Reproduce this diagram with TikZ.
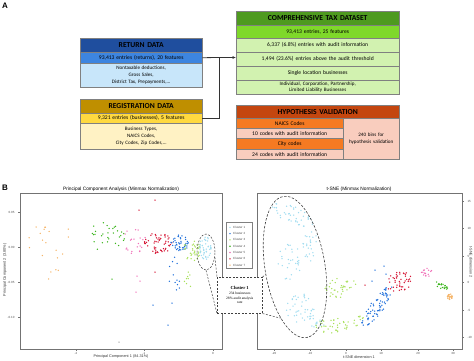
\documentclass[tikz,border=0pt]{standalone}
\usepackage{fontspec}
\setmainfont{Carlito}
\newfontfamily\plotfont{Liberation Sans}
\newfontfamily\boxserif{Liberation Serif}
\usetikzlibrary{arrows.meta,shapes.geometric}
\definecolor{retH}{HTML}{1F4E9E}
\definecolor{retR}{HTML}{3D85E0}
\definecolor{retL}{HTML}{C8E6FA}
\definecolor{regH}{HTML}{BF8F00}
\definecolor{regR}{HTML}{FFD940}
\definecolor{regL}{HTML}{FFF2C4}
\definecolor{comH}{HTML}{4E9A1F}
\definecolor{comR}{HTML}{7FD82A}
\definecolor{comL}{HTML}{D2F2B0}
\definecolor{hypH}{HTML}{C4460F}
\definecolor{hypR}{HTML}{F57A22}
\definecolor{hypL}{HTML}{F9CDBE}
\definecolor{cA}{HTML}{9FDCF0}
\definecolor{cB}{HTML}{1F6FDB}
\definecolor{cC}{HTML}{A8E05A}
\definecolor{cD}{HTML}{3CB51E}
\definecolor{cE}{HTML}{F070B8}
\definecolor{cF}{HTML}{D41030}
\definecolor{cG}{HTML}{F5B468}
\newcommand\scatterblob[8]{%
  \pgfmathsetseed{#8}%
  \foreach \kk in {1,...,#2}{%
    \pgfmathsetmacro\sbR{sqrt(rnd)}%
    \pgfmathsetmacro\sbT{360*rnd}%
    \pgfmathsetmacro\sbU{\sbR*cos(\sbT)}%
    \pgfmathsetmacro\sbV{\sbR*sin(\sbT)}%
    \fill[#1] ({#3+#5*\sbU*cos(#7)-#6*\sbV*sin(#7)},{#4+#5*\sbU*sin(#7)+#6*\sbV*cos(#7)}) circle[radius=0.75pt];
  }}
\begin{document}
\begin{tikzpicture}[x=1pt,y=-1pt,
  cell/.style={draw=black!50, line width=0.4pt, anchor=north west, inner sep=0pt, align=center},
  hdr/.style={cell, font=\fontsize{7.6}{8.5}\selectfont\bfseries},
  rowc/.style={cell, font=\fontsize{5.6}{6.4}\selectfont},
  desc/.style={cell, font=\fontsize{5.1}{6.6}\selectfont},
  conn/.style={draw=black!80, line width=0.8pt},
  frame/.style={draw=black!55, line width=0.5pt},
  tick/.style={font=\plotfont\fontsize{3}{3.5}\selectfont, text=black!70},
  axlab/.style={font=\plotfont\fontsize{3.8}{4.2}\selectfont, text=black!80},
  ptitle/.style={font=\plotfont\fontsize{4.8}{5.5}\selectfont},
  zoomline/.style={draw=black!75, dashed, line width=0.5pt, dash pattern=on 2pt off 1.5pt},
  panel/.style={font=\plotfont\bfseries\fontsize{8}{9}\selectfont}]
\useasboundingbox (0,0) rectangle (474,360);
% ---------- panel A ----------
\node[panel] (pA) at (5,6) {A};
\node[hdr, fill=retH, text width=122pt, minimum height=14pt] (ret-h) at (80,38) {RETURN DATA};
\node[rowc, fill=retR, text width=122pt, minimum height=11pt] (ret-r) at (80,52) {93,413 entries (returns), 20 features};
\node[desc, fill=retL, text width=122pt, minimum height=24pt] (ret-d) at (80,63) {Nontaxable deductions,\\Gross Sales,\\District Tax, Prepayments,...};
\node[hdr, fill=regH, text width=122pt, minimum height=14pt] (reg-h) at (80,99) {REGISTRATION DATA};
\node[rowc, fill=regR, text width=122pt, minimum height=10pt] (reg-r) at (80,113) {9,321 entries (businesses), 5 features};
\node[desc, fill=regL, text width=122pt, minimum height=26pt] (reg-d) at (80,123) {Business Types,\\NAICS Codes,\\City Codes, Zip Codes,...};
\node[hdr, fill=comH, text width=163pt, minimum height=14pt] (comp-h) at (236,11) {COMPREHENSIVE TAX DATASET};
\node[rowc, fill=comR, text width=163pt, minimum height=13pt] (comp1) at (236,25) {93,413 entries, 25 features};
\node[rowc, fill=comL, text width=163pt, minimum height=14pt] (comp2) at (236,38) {6,337 (6.8\%) entries with audit information};
\node[rowc, fill=comL, text width=163pt, minimum height=14pt] (comp3) at (236,52) {1,494 (23.6\%) entries above the audit threshold};
\node[rowc, fill=comL, text width=163pt, minimum height=14pt] (comp4) at (236,66) {Single location businesses};
\node[desc, fill=comL, text width=163pt, minimum height=14pt, font=\fontsize{5.1}{5.9}\selectfont] (comp5) at (236,80) {Individual, Corporation, Partnership,\\Limited Liability Businesses};
\node[hdr, fill=hypH, text width=163pt, minimum height=13pt] (hyp-h) at (236,105) {HYPOTHESIS VALIDATION};
\node[rowc, fill=hypR, text width=107pt, minimum height=10pt] (hyp-n) at (236,118) {NAICS Codes};
\node[rowc, fill=hypL, text width=107pt, minimum height=10pt] (hyp-n2) at (236,128) {10 codes with audit information};
\node[rowc, fill=hypR, text width=107pt, minimum height=11pt] (hyp-c) at (236,138) {City codes};
\node[rowc, fill=hypL, text width=107pt, minimum height=10pt] (hyp-c2) at (236,149) {24 codes with audit information};
\node[rowc, fill=hypL, text width=56pt, minimum height=41pt, font=\fontsize{5.1}{6.2}\selectfont] (hyp-b) at (343,118) {240 bins for\\hypothesis validation};
\coordinate (jn) at (219,57.5);
\draw[conn] (ret-r.east) -- (jn);
\draw[conn] (reg-r.east) -| (jn);
\draw[conn,-{Latex[length=3.5pt,width=3pt]}] (jn) -- (jn -| comp3.west);
% ---------- panel B ----------
\node[panel] (pB) at (5,188) {B};
\node[ptitle] (t1) at (121,189) {Principal Component Analysis (Minmax Normalization)};
\node[ptitle] (t2) at (359,189) {t-SNE (Minmax Normalization)};
\draw[frame] (20,193) rectangle (222,349);
\draw[frame] (257,193) rectangle (462,349);
% PCA axes
\foreach \yy/\lab in {212/0.05,247/0.00,282/-0.05,317/-0.10}{
  \draw[black!55,line width=0.3pt] (18,\yy) -- (20,\yy);
  \node[tick,anchor=east] at (18,\yy) {\lab};}
\foreach \xx/\lab in {76/-2,144/-1,213/0}{
  \draw[black!55,line width=0.3pt] (\xx,349) -- (\xx,351);
  \node[tick] at (\xx,353.5) {\lab};}
\node[axlab] (xl1) at (121,357) {Principal Component 1 (84.31\%)};
\node[axlab,rotate=90] (yl1) at (5,270) {Principal Component 2 (3.80\%)};
% tSNE axes
\foreach \yy/\lab in {201/15,228/10,256/5,282/0,310/-5,337/-10}{
  \draw[black!55,line width=0.3pt] (462,\yy) -- (464,\yy);
  \node[tick,anchor=west] at (464,\yy) {\lab};}
\foreach \xx/\lab in {274/-20,310/-10,346/0,381/10,418/20,453/30}{
  \draw[black!55,line width=0.3pt] (\xx,349) -- (\xx,351);
  \node[tick] at (\xx,353.5) {\lab};}
\node[axlab] (xl2) at (359,357) {t-SNE dimension 1};
\node[axlab,rotate=-90] (yl2) at (471,262) {t-SNE dimension 2};
% PCA scatter
\scatterblob{cG}{20}{50}{246}{24}{34}{0}{11}
\scatterblob{cD}{30}{105}{238}{20}{16}{0}{12}
\fill[cD] (112,279) circle[radius=0.75pt];
\scatterblob{cE}{20}{134}{240}{12}{14}{0}{13}
\foreach \p in {(137,276),(140,281),(136,292),(127,231)} \fill[cE] \p circle[radius=0.75pt];
\fill[black!35] (119,342) circle[radius=0.75pt];
\scatterblob{cF}{55}{158}{243}{14}{11}{0}{14}
\foreach \p in {(139,210),(155,200),(155,272)} \fill[cF] \p circle[radius=0.75pt];
\scatterblob{cB}{45}{180}{243}{9}{8}{0}{15}
\scatterblob{cB}{12}{175}{275}{7}{20}{0}{16}
\foreach \p in {(168,325),(172,303),(153,305)} \fill[cB] \p circle[radius=0.75pt];
\scatterblob{cC}{35}{192}{250}{9}{12}{0}{17}
\scatterblob{cC}{8}{188}{280}{5}{8}{0}{18}
\scatterblob{cA}{45}{205}{248}{6}{12}{0}{19}
% tSNE scatter
\scatterblob{cA}{45}{292}{215}{25}{9}{25}{21}
\scatterblob{cA}{25}{310}{245}{8}{16}{0}{22}
\scatterblob{cA}{30}{290}{262}{12}{20}{0}{23}
\scatterblob{cA}{40}{300}{308}{15}{15}{0}{24}
\scatterblob{cA}{15}{315}{322}{10}{8}{0}{25}
\scatterblob{cC}{25}{335}{290}{10}{12}{0}{26}
\scatterblob{cC}{35}{332}{325}{18}{8}{0}{27}
\scatterblob{cC}{10}{350}{285}{8}{6}{0}{28}
\scatterblob{cC}{10}{358}{320}{6}{8}{0}{29}
\scatterblob{cB}{70}{377}{307}{25}{7}{-55}{30}
\foreach \p in {(375,270),(372,281),(384,266),(386,274)} \fill[cB] \p circle[radius=0.75pt];
\scatterblob{cF}{45}{400}{281}{15}{10}{-25}{31}
\fill[cF] (365,285) circle[radius=0.75pt];
\scatterblob{cE}{15}{426}{272}{6}{5}{0}{32}
\scatterblob{cD}{20}{441}{286}{7}{3}{25}{33}
\scatterblob{cG}{25}{450}{297}{3}{3}{0}{34}
% ellipses, cluster box, legend
\node[draw=black!75, dashed, dash pattern=on 2pt off 1.5pt, line width=0.5pt, ellipse, inner sep=0pt, minimum width=18pt, minimum height=36pt] (pca-ell) at (206,252) {};
\node[draw=black!75, dashed, dash pattern=on 2.5pt off 1.5pt, line width=0.6pt, ellipse, inner sep=0pt, minimum width=60pt, minimum height=143pt, rotate=9.3] (tsne-ell) at (295,267) {};
\node[draw=black!75, dashed, dash pattern=on 2pt off 1.5pt, line width=0.5pt, fill=white, anchor=north west, minimum width=45pt, minimum height=36pt, inner sep=0pt, align=center, font=\boxserif\fontsize{3.6}{4.6}\selectfont] (c1box) at (217,277) {{\fontsize{4.6}{5.6}\selectfont\bfseries Cluster 1}\\234 businesses\\28\% audit analysis\\rate};
\draw[zoomline] (pca-ell.330) -- (c1box.north west);
\draw[zoomline] (pca-ell.south) -- (c1box.south west);
\draw[zoomline] (c1box.north east) -- (tsne-ell.185);
\draw[zoomline] (c1box.south east) -- (tsne-ell.245);
\node[draw=black!50, line width=0.4pt, fill=white, anchor=north west, minimum width=26pt, minimum height=46pt, inner sep=0pt] (legend) at (226,222) {};
\foreach \c [count=\i] in {cA,cB,cC,cD,cE,cF,cG}{
  \fill[\c] (230,{221+6.3*\i}) circle[radius=0.8pt];
  \node[tick,anchor=west,inner sep=0pt] at (233,{221+6.3*\i}) {Cluster \i};}
\end{tikzpicture}
\end{document}
